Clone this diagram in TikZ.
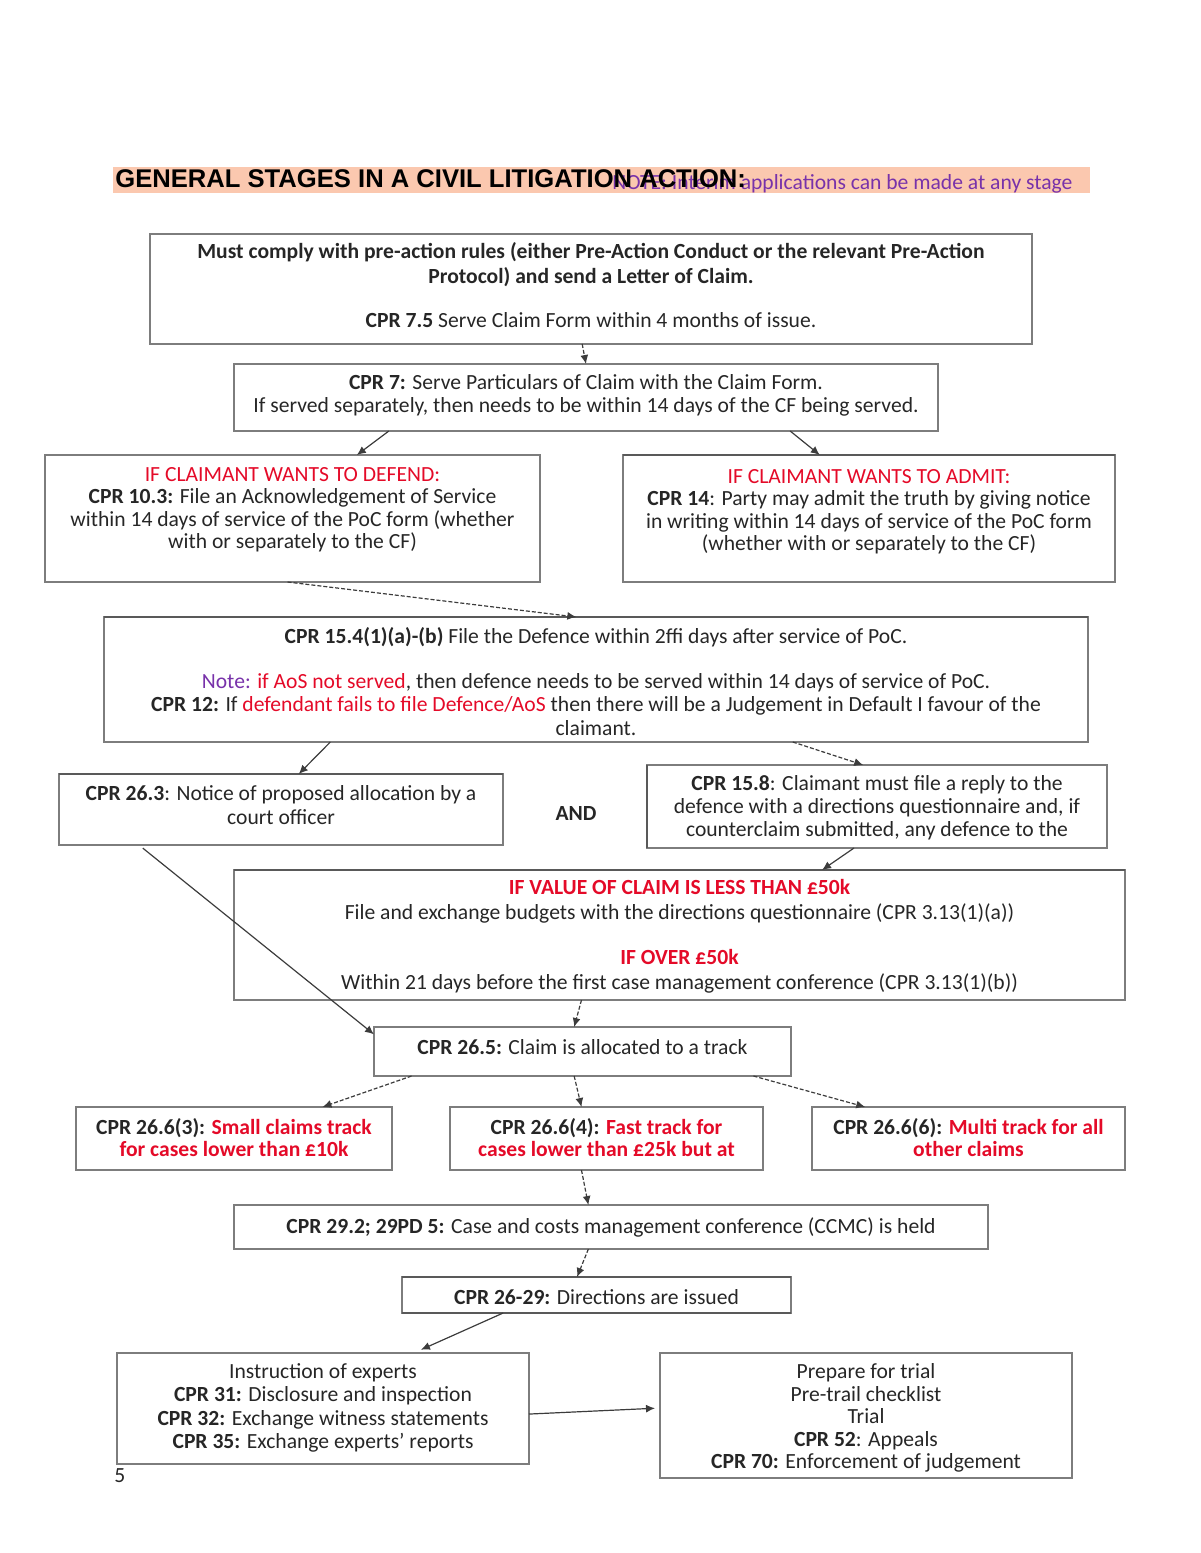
\documentclass[tikz,border=0pt]{standalone}
\usepackage{fontspec}
\setmainfont{Carlito}
\newfontfamily\headfont{Liberation Sans}
\usetikzlibrary{positioning,calc,arrows.meta}
\definecolor{cprred}{RGB}{228,10,40}
\definecolor{notepurple}{RGB}{120,50,170}
\definecolor{headbg}{RGB}{251,200,175}
\definecolor{boxline}{RGB}{125,125,125}
\definecolor{arrline}{RGB}{60,60,60}

\tikzset{
  box/.style={draw=boxline, line width=0.7pt, inner sep=0pt, outer sep=0pt},
  boxtxt/.style={inner sep=0pt, align=center, font=\fontsize{10.8}{11.5}\selectfont, text=black!85},
  arr/.style={draw=arrline, line width=0.6pt, -{Latex[length=4.5pt,width=4pt]}},
  darr/.style={arr, dash pattern=on 2pt off 1pt},
  heavy/.style={draw=black!65, line width=1.3pt},
}

\begin{document}
\begin{tikzpicture}[x=0.5pt,y=0.5pt,yscale=-1]
\useasboundingbox (0,0) rectangle (1200,1553);

% heading
\fill[headbg] (113,167) rectangle (1090,193);
\node[anchor=base west, inner sep=0pt, text=notepurple, font=\fontsize{10.8}{12}\selectfont] (note) at (612,189) {NOTE: Interim applications can be made at any stage};
\node[anchor=base west, inner sep=0pt, font=\headfont\bfseries\fontsize{12.8}{14}\selectfont] (title) at (115,187) {GENERAL STAGES IN A CIVIL LITIGATION ACTION:};

% boxes
\node[box, minimum width=441pt, minimum height=55pt] (b1) at (591,289) {};
\node[box, minimum width=352pt, minimum height=33.5pt] (b2) at (586,397.5) {};
\node[box, minimum width=247.5pt, minimum height=63.5pt] (b3) at (292.5,518.5) {};
\node[box, minimum width=246pt, minimum height=63.5pt] (b4) at (869,518.5) {};
\node[box, minimum width=492pt, minimum height=62.5pt] (b5) at (596,679.5) {};
\node[box, minimum width=222pt, minimum height=35.5pt] (b6) at (281,809.5) {};
\node[box, minimum width=230pt, minimum height=41.5pt] (b7) at (877,806.5) {};
\node[box, minimum width=445.5pt, minimum height=65pt] (b8) at (679.5,935) {};
\node[box, minimum width=208.5pt, minimum height=24.5pt] (b9) at (582.5,1051.5) {};
\node[box, minimum width=158pt, minimum height=31.5pt] (b10) at (234,1138.5) {};
\node[box, minimum width=156.5pt, minimum height=31.5pt] (b11) at (606.5,1138.5) {};
\node[box, minimum width=156.5pt, minimum height=31.5pt] (b12) at (968.5,1138.5) {};
\node[box, minimum width=377pt, minimum height=22pt] (b13) at (611,1227) {};
\node[box, minimum width=194.5pt, minimum height=18pt] (b14) at (596.5,1295) {};
\node[box, minimum width=206pt, minimum height=55.5pt] (b15) at (323,1408.5) {};
\node[box, minimum width=206pt, minimum height=62.5pt] (b16) at (866,1415.5) {};

% darker edges
\draw[heavy] (b4.north west) -- (b4.north east);
\draw[heavy] (b5.north west) -- (b5.north east);
\draw[heavy] (b6.north west) -- (b6.north east);
\draw[heavy] (b7.north west) -- (b7.south west);
\draw[heavy] (b8.north west) -- (b8.north east);
\draw[heavy] (b14.north west) -- (b14.north east);
\draw[heavy] (b14.south west) -- (b14.south east);

% texts
\node[boxtxt, font=\fontsize{10.8}{12.5}\selectfont, below=4pt of b1.north] (t1) {\textbf{Must comply with pre-action rules (either Pre-Action Conduct or the relevant Pre-Action}\\
  \textbf{Protocol) and send a Letter of Claim.}\\[9.5pt]
  \textbf{CPR 7.5} Serve Claim Form within 4 months of issue.};
\node[boxtxt, below=5pt of b2.north] (t2) {\textbf{CPR 7:} Serve Particulars of Claim with the Claim Form.\\
  If served separately, then needs to be within 14 days of the CF being served.};
\node[boxtxt, font=\fontsize{10.8}{11.2}\selectfont, below=6pt of b3.north] (t3) {{\color{cprred}IF CLAIMANT WANTS TO DEFEND:}\\
  \textbf{CPR 10.3:} File an Acknowledgement of Service\\
  within 14 days of service of the PoC form (whether\\
  with or separately to the CF)};
\node[boxtxt, font=\fontsize{10.8}{11.2}\selectfont, below=7pt of b4.north] (t4) {{\color{cprred}IF CLAIMANT WANTS TO ADMIT:}\\
  \textbf{CPR 14}: Party may admit the truth by giving notice\\
  in writing within 14 days of service of the PoC form\\
  (whether with or separately to the CF)};
\node[boxtxt, font=\fontsize{10.8}{11.75}\selectfont, below=5pt of b5.north] (t5) {\textbf{CPR 15.4(1)(a)-(b)} File the Defence within 2ffi days after service of PoC.\\[10.75pt]
  {\color{notepurple}Note:} {\color{cprred}if AoS not served}, then defence needs to be served within 14 days of service of PoC.\\
  \textbf{CPR 12:} If {\color{cprred}defendant fails to file Defence/AoS} then there will be a Judgement in Default I favour of the\\
  claimant.};
\node[boxtxt, font=\fontsize{10.8}{12}\selectfont, below=5.5pt of b6.north] (t6) {\textbf{CPR 26.3}: Notice of proposed allocation by a\\
  court officer};
\node[boxtxt, below=5pt of b7.north] (t7) {\textbf{CPR 15.8}: Claimant must file a reply to the\\
  defence with a directions questionnaire and, if\\
  counterclaim submitted, any defence to the};
\node[boxtxt, font=\fontsize{10.8}{12.5}\selectfont, below=4.5pt of b8.north] (t8) {{\color{cprred}\textbf{IF VALUE OF CLAIM IS LESS THAN £50k}}\\
  File and exchange budgets with the directions questionnaire (CPR 3.13(1)(a))\\[10pt]
  {\color{cprred}\textbf{IF OVER £50k}}\\
  Within 21 days before the first case management conference (CPR 3.13(1)(b))};
\node[boxtxt, below=6pt of b9.north] (t9) {\textbf{CPR 26.5:} Claim is allocated to a track};
\node[boxtxt, font=\fontsize{10.8}{11}\selectfont, below=5.5pt of b10.north] (t10) {\textbf{CPR 26.6(3):} {\color{cprred}\textbf{Small claims track}}\\
  {\color{cprred}\textbf{for cases lower than £10k}}};
\node[boxtxt, font=\fontsize{10.8}{11}\selectfont, below=5.5pt of b11.north] (t11) {\textbf{CPR 26.6(4):} {\color{cprred}\textbf{Fast track for}}\\
  {\color{cprred}\textbf{cases lower than £25k but at}}};
\node[boxtxt, font=\fontsize{10.8}{11}\selectfont, below=5.5pt of b12.north] (t12) {\textbf{CPR 26.6(6):} {\color{cprred}\textbf{Multi track for all}}\\
  {\color{cprred}\textbf{other claims}}};
\node[boxtxt, below=6pt of b13.north] (t13) {\textbf{CPR 29.2; 29PD 5:} Case and costs management conference (CCMC) is held};
\node[boxtxt, below=6pt of b14.north] (t14) {\textbf{CPR 26-29:} Directions are issued};
\node[boxtxt, font=\fontsize{10.8}{11.7}\selectfont, below=5pt of b15.north] (t15) {Instruction of experts\\
  \textbf{CPR 31:} Disclosure and inspection\\
  \textbf{CPR 32:} Exchange witness statements\\
  \textbf{CPR 35:} Exchange experts’ reports};
\node[boxtxt, font=\fontsize{10.8}{11.3}\selectfont, below=5pt of b16.north] (t16) {Prepare for trial\\
  Pre-trail checklist\\
  Trial\\
  \textbf{CPR 52}: Appeals\\
  \textbf{CPR 70:} Enforcement of judgement};

\node[inner sep=0pt, font=\bfseries\fontsize{10.8}{12}\selectfont, text=black!85] (and) at (576,813) {AND};
\node[anchor=base west, inner sep=0pt, font=\fontsize{10.8}{12}\selectfont, text=black!85] (page) at (114,1482) {5};

% connectors
\draw[darr] ($(b1.south west)!0.49!(b1.south east)$) -- ($(b2.north west)!0.50!(b2.north east)$);
\draw[arr] ($(b2.south west)!0.22!(b2.south east)$) -- ($(b3.north west)!0.63!(b3.north east)$);
\draw[arr] ($(b2.south west)!0.79!(b2.south east)$) -- ($(b4.north west)!0.40!(b4.north east)$);
\draw[darr] ($(b3.south west)!0.49!(b3.south east)$) -- ($(b5.north west)!0.48!(b5.north east)$);
\draw[arr] ($(b5.south west)!0.23!(b5.south east)$) -- ($(b6.north west)!0.54!(b6.north east)$);
\draw[darr] ($(b5.south west)!0.70!(b5.south east)$) -- ($(b7.north west)!0.47!(b7.north east)$);
\draw[arr] ($(b7.south west)!0.45!(b7.south east)$) -- ($(b8.north west)!0.66!(b8.north east)$);
\draw[arr, shorten <=2.5pt] ($(b6.south west)!0.18!(b6.south east)$) -- ($(b9.north west)!0.15!(b9.south west)$);
\draw[darr] ($(b8.south west)!0.39!(b8.south east)$) -- ($(b9.north west)!0.48!(b9.north east)$);
\draw[darr] ($(b9.south west)!0.09!(b9.south east)$) -- ($(b10.north west)!0.78!(b10.north east)$);
\draw[darr] ($(b9.south west)!0.48!(b9.south east)$) -- ($(b11.north west)!0.42!(b11.north east)$);
\draw[darr] ($(b9.south west)!0.91!(b9.south east)$) -- ($(b12.north west)!0.17!(b12.north east)$);
\draw[darr] ($(b11.south west)!0.42!(b11.south east)$) -- ($(b13.north west)!0.47!(b13.north east)$);
\draw[darr] ($(b13.south west)!0.47!(b13.south east)$) -- ($(b14.north west)!0.45!(b14.north east)$);
\draw[arr, shorten >=4pt] ($(b14.south west)!0.26!(b14.south east)$) -- ($(b15.north west)!0.72!(b15.north east)$);
\draw[arr, shorten >=2.5pt] ($(b15.north east)!0.55!(b15.south east)$) -- ($(b16.north west)!0.44!(b16.south west)$);

\end{tikzpicture}
\end{document}
